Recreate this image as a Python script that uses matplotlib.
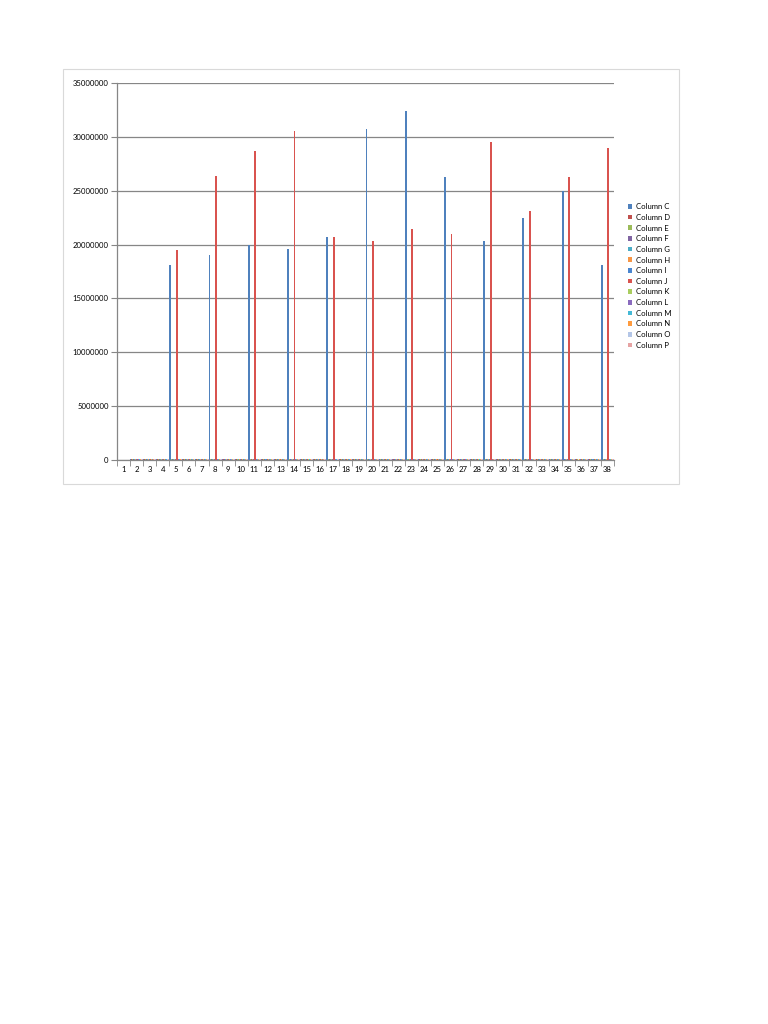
import matplotlib
matplotlib.use("Agg")
import matplotlib.pyplot as plt
from matplotlib.patches import Rectangle, Patch
import numpy as np

categories = [str(i) for i in range(1, 39)]

series_names = ["Column C", "Column D", "Column E", "Column F", "Column G", "Column H", "Column I",
                "Column J", "Column K", "Column L", "Column M", "Column N", "Column O", "Column P"]
series_colors = ["#4F81BD", "#C0504D", "#9BBB59", "#8064A2", "#4BACC6", "#F79646", "#4A86D0",
                 "#D9534F", "#A9CD5E", "#8A6BBE", "#44B9D6", "#FF9B3E", "#B4C6E7", "#E6A3A3"]

col_C = [0, 60000, 50000, 70000, 18100000, 60000, 50000, 19000000, 60000, 70000, 20000000, 50000, 60000,
         19600000, 60000, 50000, 20700000, 60000, 70000, 30700000, 50000, 60000, 32400000, 60000, 50000,
         26300000, 60000, 70000, 20300000, 50000, 60000, 22500000, 60000, 50000, 25000000, 60000, 70000, 18100000]
col_D = [0, 70000, 60000, 50000, 60000, 70000, 50000, 60000, 70000, 50000, 60000, 70000, 50000, 60000,
         70000, 50000, 60000, 70000, 50000, 60000, 70000, 50000, 60000, 70000, 50000, 60000, 70000, 50000,
         60000, 70000, 50000, 60000, 70000, 50000, 60000, 70000, 50000, 60000]
col_E = [0, 80000, 90000, 70000, 80000, 90000, 70000, 80000, 90000, 70000, 80000, 90000, 70000, 80000,
         90000, 70000, 80000, 90000, 70000, 80000, 90000, 70000, 80000, 90000, 70000, 80000, 90000, 70000,
         80000, 90000, 70000, 80000, 90000, 70000, 80000, 90000, 70000, 80000]
col_F = [0, 60000, 70000, 80000, 60000, 70000, 80000, 60000, 70000, 80000, 60000, 70000, 80000, 60000,
         70000, 80000, 60000, 70000, 80000, 60000, 70000, 80000, 60000, 70000, 80000, 60000, 70000, 80000,
         60000, 70000, 80000, 60000, 70000, 80000, 60000, 70000, 80000, 60000]
col_G = [0, 90000, 80000, 90000, 80000, 90000, 80000, 90000, 80000, 90000, 80000, 90000, 80000, 90000,
         80000, 90000, 80000, 90000, 80000, 90000, 80000, 90000, 80000, 90000, 80000, 90000, 80000, 90000,
         80000, 90000, 80000, 90000, 80000, 90000, 80000, 90000, 80000, 90000]
col_H = [0, 70000, 80000, 70000, 80000, 70000, 80000, 70000, 80000, 70000, 80000, 70000, 80000, 70000,
         80000, 70000, 80000, 70000, 80000, 70000, 80000, 70000, 80000, 70000, 80000, 70000, 80000, 70000,
         80000, 70000, 80000, 70000, 80000, 70000, 80000, 70000, 80000, 70000]
col_I = [0, 50000, 60000, 50000, 60000, 50000, 60000, 50000, 60000, 50000, 60000, 50000, 60000, 50000,
         60000, 50000, 60000, 50000, 60000, 50000, 60000, 50000, 60000, 50000, 60000, 50000, 60000, 50000,
         60000, 50000, 60000, 50000, 60000, 50000, 60000, 50000, 60000, 50000]
col_J = [0, 60000, 70000, 60000, 19500000, 60000, 70000, 26400000, 60000, 70000, 28700000, 60000, 70000,
         30500000, 60000, 70000, 20700000, 60000, 70000, 20300000, 60000, 70000, 21400000, 60000, 70000,
         21000000, 60000, 70000, 29500000, 60000, 70000, 23100000, 60000, 70000, 26300000, 60000, 70000, 29000000]
col_K = [0, 80000, 70000, 60000, 80000, 70000, 60000, 80000, 70000, 60000, 80000, 70000, 60000, 80000,
         70000, 60000, 80000, 70000, 60000, 80000, 70000, 60000, 80000, 70000, 60000, 80000, 70000, 60000,
         80000, 70000, 60000, 80000, 70000, 60000, 80000, 70000, 60000, 80000]
col_L = [0, 90000, 70000, 90000, 70000, 90000, 70000, 90000, 70000, 90000, 70000, 90000, 70000, 90000,
         70000, 90000, 70000, 90000, 70000, 90000, 70000, 90000, 70000, 90000, 70000, 90000, 70000, 90000,
         70000, 90000, 70000, 90000, 70000, 90000, 70000, 90000, 70000, 90000]
col_M = [0, 60000, 80000, 60000, 80000, 60000, 80000, 60000, 80000, 60000, 80000, 60000, 80000, 60000,
         80000, 60000, 80000, 60000, 80000, 60000, 80000, 60000, 80000, 60000, 80000, 60000, 80000, 60000,
         80000, 60000, 80000, 60000, 80000, 60000, 80000, 60000, 80000, 60000]
col_N = [0, 80000, 60000, 80000, 60000, 80000, 60000, 80000, 60000, 80000, 60000, 80000, 60000, 80000,
         60000, 80000, 60000, 80000, 60000, 80000, 60000, 80000, 60000, 80000, 60000, 80000, 60000, 80000,
         60000, 80000, 60000, 80000, 60000, 80000, 60000, 80000, 60000, 80000]
col_O = [0, 70000, 90000, 70000, 90000, 70000, 90000, 70000, 90000, 70000, 90000, 70000, 90000, 70000,
         90000, 70000, 90000, 70000, 90000, 70000, 90000, 70000, 90000, 70000, 90000, 70000, 90000, 70000,
         90000, 70000, 90000, 70000, 90000, 70000, 90000, 70000, 90000, 70000]
col_P = [0, 50000, 70000, 50000, 70000, 50000, 70000, 50000, 70000, 50000, 70000, 50000, 70000, 50000,
         70000, 50000, 70000, 50000, 70000, 50000, 70000, 50000, 70000, 50000, 70000, 50000, 70000, 50000,
         70000, 50000, 70000, 50000, 70000, 50000, 70000, 50000, 70000, 50000]

y_ticks = [0, 5000000, 10000000, 15000000, 20000000, 25000000, 30000000, 35000000]

series_values = [col_C, col_D, col_E, col_F, col_G, col_H, col_I,
                 col_J, col_K, col_L, col_M, col_N, col_O, col_P]

plt.rcParams['font.family'] = ['Lato', 'DejaVu Sans']

fig = plt.figure(figsize=(7.68, 10.24), dpi=100)
W, H = 768, 1024

# chart area border
fig.patches.append(Rectangle((63 / W, 1 - 484 / H), (679 - 63) / W, (484 - 69) / H,
                             transform=fig.transFigure, fill=False, edgecolor="#D9D9D9", linewidth=0.8))

ax = fig.add_axes([117 / W, 1 - 460 / H, (614 - 117) / W, (460 - 83) / H])

n_series = len(series_values)
x = np.arange(1, len(categories) + 1)
bw = 1.0 / n_series
for i, (vals, col, name) in enumerate(zip(series_values, series_colors, series_names)):
    xpos = x - 0.5 + (i + 0.5) * bw
    big = [v if v > 1000000 else 0 for v in vals]
    small = [v if v <= 1000000 else 0 for v in vals]
    # large columns: crisp outline keeps the sub-pixel width visible and solid
    ax.bar(xpos, big, width=bw, color=col, edgecolor=col, linewidth=0.6,
           joinstyle='miter', antialiased=False, zorder=4)
    # near-zero columns
    ax.bar(xpos, small, width=bw, color=col, edgecolor='none', linewidth=0,
           zorder=3)

ax.set_xlim(0.5, len(categories) + 0.5)
ax.set_ylim(0, 35000000)
ax.set_yticks(y_ticks)
ax.set_yticklabels([str(v) for v in y_ticks])
ax.yaxis.grid(True, color="#868686", linewidth=0.9, zorder=0)
ax.set_axisbelow(True)

ax.set_xticks(x)
ax.set_xticklabels(categories)
ax.set_xticks(np.arange(0.5, len(categories) + 1.0, 1.0), minor=True)
ax.tick_params(axis='x', which='major', length=0, pad=4.5, labelsize=5.6, colors="#000000")
ax.tick_params(axis='x', which='minor', length=4, width=0.6, color="#868686")
ax.tick_params(axis='y', which='major', length=4, width=0.8, color="#868686", pad=2, labelsize=5.6)

for s in ['top', 'right']:
    ax.spines[s].set_visible(False)
ax.spines['left'].set_color("#868686")
ax.spines['bottom'].set_color("#868686")
ax.spines['left'].set_linewidth(0.9)
ax.spines['bottom'].set_linewidth(0.9)

handles = [Patch(facecolor=c, edgecolor='none') for c in series_colors]
fig.legend(handles, series_names, loc='center left', bbox_to_anchor=(625 / W, 1 - 276 / H),
           frameon=False, fontsize=5.6, handlelength=0.55, handleheight=0.55, handletextpad=0.4,
           labelspacing=0.47, borderaxespad=0)

fig.savefig("out.png", dpi=100, facecolor="white")
